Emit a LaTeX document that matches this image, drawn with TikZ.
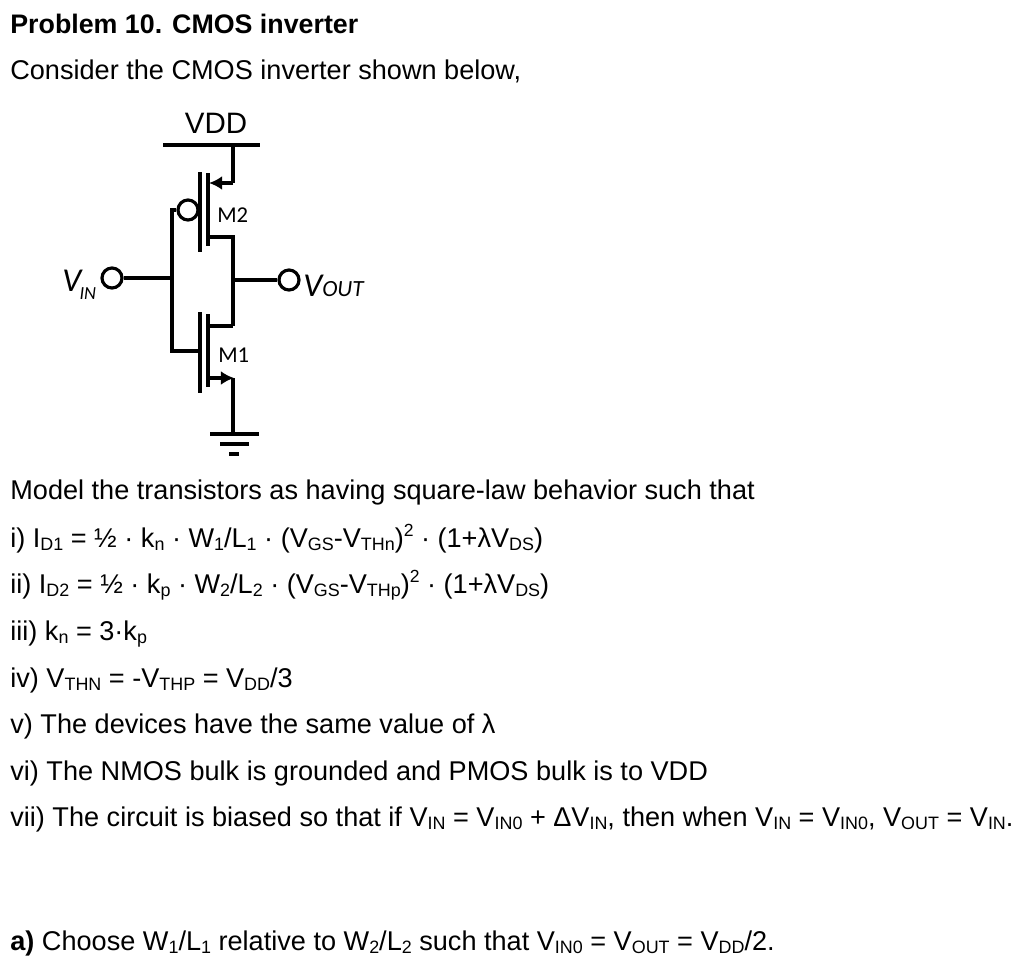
\documentclass[tikz,border=0pt]{standalone}
\usepackage{fontspec}
\setmainfont{Liberation Sans}
\newfontfamily\labelfont{Carlito}
\usetikzlibrary{arrows.meta}
\usetikzlibrary{positioning}

\newcommand{\lw}[1]{\raisebox{-0.22ex}{\fontsize{10.2}{10}\selectfont #1}}
\newcommand{\up}[1]{\raisebox{0.7ex}{\fontsize{10}{10}\selectfont #1}}

\tikzset{
  textline/.style={anchor=base west, inner sep=0pt, font=\fontsize{15.43}{18}\selectfont},
  wire/.style={black, line width=1.9pt},
  bar/.style={black, line width=2.2pt},
  pin/.style={circle, draw=black, line width=1.8pt, fill=white, inner sep=0pt, minimum size=0.4cm},
  tip/.style={-{Latex[length=7.5pt,width=8pt]}},
  devlabel/.style={inner sep=0pt, font=\labelfont\fontsize{12.9}{14}\selectfont},
  vlabel/.style={inner sep=0pt, font=\labelfont\itshape\fontsize{19}{20}\selectfont}
}

\begin{document}
\begin{tikzpicture}[x=0.02cm,y=-0.02cm]

\useasboundingbox (0,0) rectangle (1024,967);
\fill[white] (0,0) rectangle (1024,967);

% text above
\node[textline] (title) at (10,33) {\fontsize{15.25}{18}\selectfont\textbf{Problem 10. CMOS inverter}};
\node[textline] (intro) at (10,79) {Consider the CMOS inverter shown below,};

% circuit points
\coordinate (railL) at (163,145);
\coordinate (railR) at (260,145);
\coordinate (top) at (233,145);
\coordinate (sp) at (233,183);
\coordinate (sptip) at (209,183);
\coordinate (dp) at (208,237);
\coordinate (dpR) at (233,237);
\coordinate (dn) at (208,326);
\coordinate (dnR) at (233,326);
\coordinate (sn) at (208,378);
\coordinate (snR) at (234,378);
\coordinate (gnd) at (233,434);
\coordinate (gateTop) at (172,210);
\coordinate (gateBot) at (172,351);
\coordinate (gateN) at (200,351);
\coordinate (inJ) at (172,278);
\coordinate (outJ) at (231,280);

% pins
\node[pin] (bubble) at (188,210) {};
\node[pin] (vin) at (112,278) {};
\node[pin] (vout) at (289,280) {};

% M2
\draw[bar] (200,172)--(200,252);
\draw[bar] (208,173)--(208,246);
\draw[wire] (railL)--(railR);
\draw[wire] (top)--(sp);
\draw[wire, tip] (sp)--(sptip);
\draw[wire] (dp)--(dpR)--(dnR);

% M1
\draw[bar] (200,312)--(200,393);
\draw[bar] (208,314)--(208,387);
\draw[wire] (dn)--(dnR);
\draw[wire, tip] (sn)--(snR);
\draw[wire] (233,378)--(gnd);

% gate and terminals
\draw[wire] (bubble)--(gateTop)--(gateBot)--(gateN);
\draw[wire] (vin)--(inJ);
\draw[wire] (outJ)--(vout);

% ground
\draw[wire] (210,434)--(259,434);
\draw[wire] (220,444)--(249,444);
\draw[wire] (229,454)--(239,454);

\node[textline, anchor=base] (vdd) at (216,133) {\fontsize{16.8}{18}\selectfont VDD};
\node[devlabel, anchor=west] (m2) at (217,215) {M2};
\node[devlabel, anchor=west] (m1) at (218,355) {M1};
\node[vlabel, anchor=base west] (vinlabel) at (62,291) {V\raisebox{-0.55ex}{\kern-1pt\fontsize{10.5}{12}\selectfont IN}};
\node[vlabel, anchor=base west] (voutlabel) at (303,296) {V\fontsize{13.2}{14}\selectfont OUT};

% text below
\node[textline] (model) at (10,499) {Model the transistors as having square-law behavior such that};
\node[textline] (li) at (10,547) {i) I\lw{D1} = ½ · k\lw{n} · W\lw{1}/L\lw{1} · (V\lw{GS}-V\lw{THn})\up{2} · (1+λV\lw{DS})};
\node[textline] (lii) at (10,593) {ii) I\lw{D2} = ½ · k\lw{p} · W\lw{2}/L\lw{2} · (V\lw{GS}-V\lw{THp})\up{2} · (1+λV\lw{DS})};
\node[textline] (liii) at (10,640) {iii) k\lw{n} = 3·k\lw{p}};
\node[textline] (liv) at (10,687) {iv) V\lw{THN} = -V\lw{THP} = V\lw{DD}/3};
\node[textline] (lv) at (10,733) {v) The devices have the same value of λ};
\node[textline] (lvi) at (10,780) {vi) The NMOS bulk is grounded and PMOS bulk is to VDD};
\node[textline] (lvii) at (10,826) {vii) The circuit is biased so that if V\lw{IN} = V\lw{IN0} + ΔV\lw{IN}, then when V\lw{IN} = V\lw{IN0}, V\lw{OUT} = V\lw{IN}.};
\node[textline] (parta) at (10,950) {\textbf{a)} Choose W\lw{1}/L\lw{1} relative to W\lw{2}/L\lw{2} such that V\lw{IN0} = V\lw{OUT} = V\lw{DD}/2.};

\end{tikzpicture}
\end{document}
